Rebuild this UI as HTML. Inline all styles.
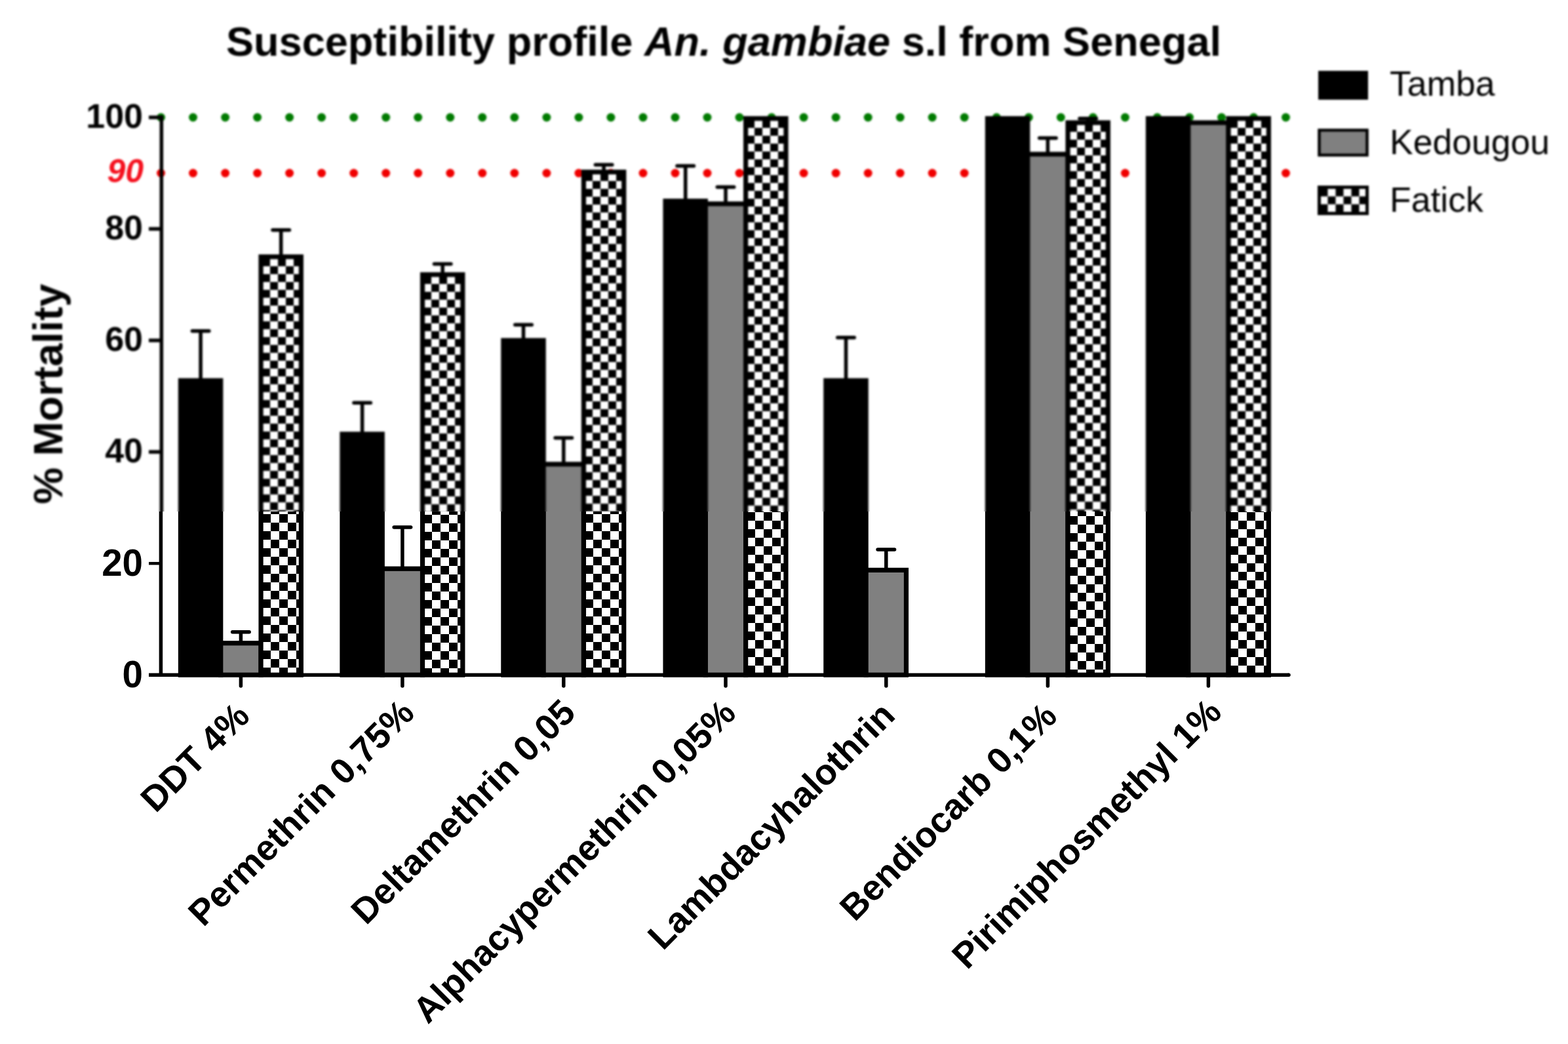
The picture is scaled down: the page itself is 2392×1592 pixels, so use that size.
<!DOCTYPE html><html><head><meta charset="utf-8"><title>Susceptibility profile An. gambiae s.l from Senegal</title>
<style>html,body{margin:0;padding:0;background:#fff;overflow:hidden;}svg{display:block;}text{font-family:"Liberation Sans",Arial,sans-serif;}</style></head><body>
<svg width="2392" height="1592" viewBox="0 0 2392 1592">
<defs><clipPath id="ctop"><rect x="0" y="0" width="2392" height="780"/></clipPath><clipPath id="cbot"><rect x="0" y="780" width="2392" height="812"/></clipPath><filter id="fb" x="-2%" y="-2%" width="104%" height="104%" color-interpolation-filters="sRGB"><feGaussianBlur stdDeviation="1.80"/></filter><filter id="fs" x="-2%" y="-2%" width="104%" height="104%" color-interpolation-filters="sRGB"><feGaussianBlur stdDeviation="0.60"/></filter><pattern id="pt0" patternUnits="userSpaceOnUse" x="400.00" y="394.00" width="24" height="24"><rect width="24" height="24" fill="#fff"/><rect width="12" height="12" fill="#000"/><rect x="12" y="12" width="12" height="12" fill="#000"/></pattern><pattern id="pb0" patternUnits="userSpaceOnUse" x="400.00" y="394.00" width="26" height="26"><rect width="26" height="26" fill="#fff"/><rect width="13" height="13" fill="#000"/><rect x="13" y="13" width="13" height="13" fill="#000"/></pattern><pattern id="pt1" patternUnits="userSpaceOnUse" x="646.00" y="421.00" width="24" height="24"><rect width="24" height="24" fill="#fff"/><rect width="12" height="12" fill="#000"/><rect x="12" y="12" width="12" height="12" fill="#000"/></pattern><pattern id="pb1" patternUnits="userSpaceOnUse" x="646.00" y="421.00" width="26" height="26"><rect width="26" height="26" fill="#fff"/><rect width="13" height="13" fill="#000"/><rect x="13" y="13" width="13" height="13" fill="#000"/></pattern><pattern id="pt2" patternUnits="userSpaceOnUse" x="892.00" y="264.00" width="24" height="24"><rect width="24" height="24" fill="#fff"/><rect width="12" height="12" fill="#000"/><rect x="12" y="12" width="12" height="12" fill="#000"/></pattern><pattern id="pb2" patternUnits="userSpaceOnUse" x="892.00" y="264.00" width="26" height="26"><rect width="26" height="26" fill="#fff"/><rect width="13" height="13" fill="#000"/><rect x="13" y="13" width="13" height="13" fill="#000"/></pattern><pattern id="pt3" patternUnits="userSpaceOnUse" x="1139.00" y="183.00" width="24" height="24"><rect width="24" height="24" fill="#fff"/><rect width="12" height="12" fill="#000"/><rect x="12" y="12" width="12" height="12" fill="#000"/></pattern><pattern id="pb3" patternUnits="userSpaceOnUse" x="1139.00" y="183.00" width="26" height="26"><rect width="26" height="26" fill="#fff"/><rect width="13" height="13" fill="#000"/><rect x="13" y="13" width="13" height="13" fill="#000"/></pattern><pattern id="pt5" patternUnits="userSpaceOnUse" x="1631.00" y="189.00" width="24" height="24"><rect width="24" height="24" fill="#fff"/><rect width="12" height="12" fill="#000"/><rect x="12" y="12" width="12" height="12" fill="#000"/></pattern><pattern id="pb5" patternUnits="userSpaceOnUse" x="1631.00" y="189.00" width="26" height="26"><rect width="26" height="26" fill="#fff"/><rect width="13" height="13" fill="#000"/><rect x="13" y="13" width="13" height="13" fill="#000"/></pattern><pattern id="pt6" patternUnits="userSpaceOnUse" x="1876.00" y="183.00" width="24" height="24"><rect width="24" height="24" fill="#fff"/><rect width="12" height="12" fill="#000"/><rect x="12" y="12" width="12" height="12" fill="#000"/></pattern><pattern id="pb6" patternUnits="userSpaceOnUse" x="1876.00" y="183.00" width="26" height="26"><rect width="26" height="26" fill="#fff"/><rect width="13" height="13" fill="#000"/><rect x="13" y="13" width="13" height="13" fill="#000"/></pattern><pattern id="pl" patternUnits="userSpaceOnUse" x="2013.50" y="287.50" width="24" height="24"><rect width="24" height="24" fill="#fff"/><rect width="12" height="12" fill="#000"/><rect x="12" y="12" width="12" height="12" fill="#000"/></pattern></defs>
<rect width="2392" height="1592" fill="#fff"/>
<g clip-path="url(#ctop)"><g filter="url(#fb)">
<g fill="#f00000"><circle cx="245.5" cy="264.0" r="6.5"/><circle cx="294.5" cy="264.0" r="6.5"/><circle cx="343.6" cy="264.0" r="6.5"/><circle cx="392.6" cy="264.0" r="6.5"/><circle cx="441.6" cy="264.0" r="6.5"/><circle cx="490.6" cy="264.0" r="6.5"/><circle cx="539.7" cy="264.0" r="6.5"/><circle cx="588.7" cy="264.0" r="6.5"/><circle cx="637.7" cy="264.0" r="6.5"/><circle cx="686.8" cy="264.0" r="6.5"/><circle cx="735.8" cy="264.0" r="6.5"/><circle cx="784.8" cy="264.0" r="6.5"/><circle cx="833.9" cy="264.0" r="6.5"/><circle cx="882.9" cy="264.0" r="6.5"/><circle cx="931.9" cy="264.0" r="6.5"/><circle cx="981.0" cy="264.0" r="6.5"/><circle cx="1030.0" cy="264.0" r="6.5"/><circle cx="1079.0" cy="264.0" r="6.5"/><circle cx="1128.0" cy="264.0" r="6.5"/><circle cx="1177.1" cy="264.0" r="6.5"/><circle cx="1226.1" cy="264.0" r="6.5"/><circle cx="1275.1" cy="264.0" r="6.5"/><circle cx="1324.2" cy="264.0" r="6.5"/><circle cx="1373.2" cy="264.0" r="6.5"/><circle cx="1422.2" cy="264.0" r="6.5"/><circle cx="1471.2" cy="264.0" r="6.5"/><circle cx="1520.3" cy="264.0" r="6.5"/><circle cx="1569.3" cy="264.0" r="6.5"/><circle cx="1618.3" cy="264.0" r="6.5"/><circle cx="1667.4" cy="264.0" r="6.5"/><circle cx="1716.4" cy="264.0" r="6.5"/><circle cx="1765.4" cy="264.0" r="6.5"/><circle cx="1814.5" cy="264.0" r="6.5"/><circle cx="1863.5" cy="264.0" r="6.5"/><circle cx="1912.5" cy="264.0" r="6.5"/><circle cx="1961.5" cy="264.0" r="6.5"/></g><g fill="#007a00"><circle cx="245.5" cy="179.0" r="6.5"/><circle cx="294.5" cy="179.0" r="6.5"/><circle cx="343.6" cy="179.0" r="6.5"/><circle cx="392.6" cy="179.0" r="6.5"/><circle cx="441.6" cy="179.0" r="6.5"/><circle cx="490.6" cy="179.0" r="6.5"/><circle cx="539.7" cy="179.0" r="6.5"/><circle cx="588.7" cy="179.0" r="6.5"/><circle cx="637.7" cy="179.0" r="6.5"/><circle cx="686.8" cy="179.0" r="6.5"/><circle cx="735.8" cy="179.0" r="6.5"/><circle cx="784.8" cy="179.0" r="6.5"/><circle cx="833.9" cy="179.0" r="6.5"/><circle cx="882.9" cy="179.0" r="6.5"/><circle cx="931.9" cy="179.0" r="6.5"/><circle cx="981.0" cy="179.0" r="6.5"/><circle cx="1030.0" cy="179.0" r="6.5"/><circle cx="1079.0" cy="179.0" r="6.5"/><circle cx="1128.0" cy="179.0" r="6.5"/><circle cx="1177.1" cy="179.0" r="6.5"/><circle cx="1226.1" cy="179.0" r="6.5"/><circle cx="1275.1" cy="179.0" r="6.5"/><circle cx="1324.2" cy="179.0" r="6.5"/><circle cx="1373.2" cy="179.0" r="6.5"/><circle cx="1422.2" cy="179.0" r="6.5"/><circle cx="1471.2" cy="179.0" r="6.5"/><circle cx="1520.3" cy="179.0" r="6.5"/><circle cx="1569.3" cy="179.0" r="6.5"/><circle cx="1618.3" cy="179.0" r="6.5"/><circle cx="1667.4" cy="179.0" r="6.5"/><circle cx="1716.4" cy="179.0" r="6.5"/><circle cx="1765.4" cy="179.0" r="6.5"/><circle cx="1814.5" cy="179.0" r="6.5"/><circle cx="1863.5" cy="179.0" r="6.5"/><circle cx="1912.5" cy="179.0" r="6.5"/><circle cx="1961.5" cy="179.0" r="6.5"/></g><rect x="275.45" y="580.29" width="61.30" height="448.91" fill="#000" stroke="#000" stroke-width="7.2"/><rect x="336.75" y="980.74" width="61.30" height="48.46" fill="#808080" stroke="#000" stroke-width="7.2"/><rect x="398.05" y="391.55" width="61.30" height="637.65" fill="url(#pt0)" stroke="#000" stroke-width="7.2"/><rect x="521.95" y="661.91" width="61.30" height="367.29" fill="#000" stroke="#000" stroke-width="7.2"/><rect x="583.25" y="867.24" width="61.30" height="161.96" fill="#808080" stroke="#000" stroke-width="7.2"/><rect x="644.55" y="418.76" width="61.30" height="610.44" fill="url(#pt1)" stroke="#000" stroke-width="7.2"/><rect x="767.85" y="519.08" width="61.30" height="510.12" fill="#000" stroke="#000" stroke-width="7.2"/><rect x="829.15" y="707.82" width="61.30" height="321.38" fill="#808080" stroke="#000" stroke-width="7.2"/><rect x="890.45" y="262.32" width="61.30" height="766.88" fill="url(#pt2)" stroke="#000" stroke-width="7.2"/><rect x="1015.05" y="306.53" width="61.30" height="722.67" fill="#000" stroke="#000" stroke-width="7.2"/><rect x="1076.35" y="310.78" width="61.30" height="718.42" fill="#808080" stroke="#000" stroke-width="7.2"/><rect x="1137.65" y="180.70" width="61.30" height="848.50" fill="url(#pt3)" stroke="#000" stroke-width="7.2"/><rect x="1259.85" y="580.29" width="61.30" height="448.91" fill="#000" stroke="#000" stroke-width="7.2"/><rect x="1321.15" y="869.36" width="61.30" height="159.84" fill="#808080" stroke="#000" stroke-width="7.2"/><rect x="1506.45" y="180.70" width="61.30" height="848.50" fill="#000" stroke="#000" stroke-width="7.2"/><rect x="1567.75" y="235.11" width="61.30" height="794.09" fill="#808080" stroke="#000" stroke-width="7.2"/><rect x="1629.05" y="187.08" width="61.30" height="842.12" fill="url(#pt5)" stroke="#000" stroke-width="7.2"/><rect x="1751.45" y="180.70" width="61.30" height="848.50" fill="#000" stroke="#000" stroke-width="7.2"/><rect x="1812.75" y="187.08" width="61.30" height="842.12" fill="#808080" stroke="#000" stroke-width="7.2"/><rect x="1874.05" y="180.70" width="61.30" height="848.50" fill="url(#pt6)" stroke="#000" stroke-width="7.2"/><path d="M306.10 580.29V504.63M293.35 504.63H318.85" stroke="#000" stroke-width="5.5" stroke-linecap="round" fill="none"/><path d="M367.40 980.74V963.73M354.65 963.73H380.15" stroke="#000" stroke-width="5.5" stroke-linecap="round" fill="none"/><path d="M428.70 391.55V350.74M415.95 350.74H441.45" stroke="#000" stroke-width="5.5" stroke-linecap="round" fill="none"/><path d="M552.60 661.91V614.30M539.85 614.30H565.35" stroke="#000" stroke-width="5.5" stroke-linecap="round" fill="none"/><path d="M613.90 867.24V803.90M601.15 803.90H626.65" stroke="#000" stroke-width="5.5" stroke-linecap="round" fill="none"/><path d="M675.20 418.76V402.60M662.45 402.60H687.95" stroke="#000" stroke-width="5.5" stroke-linecap="round" fill="none"/><path d="M798.50 519.08V495.27M785.75 495.27H811.25" stroke="#000" stroke-width="5.5" stroke-linecap="round" fill="none"/><path d="M859.80 707.82V667.87M847.05 667.87H872.55" stroke="#000" stroke-width="5.5" stroke-linecap="round" fill="none"/><path d="M921.10 262.32V251.27M908.35 251.27H933.85" stroke="#000" stroke-width="5.5" stroke-linecap="round" fill="none"/><path d="M1045.70 306.53V252.97M1032.95 252.97H1058.45" stroke="#000" stroke-width="5.5" stroke-linecap="round" fill="none"/><path d="M1107.00 310.78V285.27M1094.25 285.27H1119.75" stroke="#000" stroke-width="5.5" stroke-linecap="round" fill="none"/><path d="M1290.50 580.29V514.83M1277.75 514.83H1303.25" stroke="#000" stroke-width="5.5" stroke-linecap="round" fill="none"/><path d="M1351.80 869.36V837.90M1339.05 837.90H1364.55" stroke="#000" stroke-width="5.5" stroke-linecap="round" fill="none"/><path d="M1598.40 235.11V210.46M1585.65 210.46H1611.15" stroke="#000" stroke-width="5.5" stroke-linecap="round" fill="none"/><path d="M1659.70 187.08V180.70M1646.95 180.70H1672.45" stroke="#000" stroke-width="5.5" stroke-linecap="round" fill="none"/><path d="M246.3 176V1031.5" stroke="#000" stroke-width="5.5"/><path d="M227 1029.20H246.3" stroke="#000" stroke-width="4.5"/><path d="M227 859.16H246.3" stroke="#000" stroke-width="4.5"/><path d="M227 689.12H246.3" stroke="#000" stroke-width="5.5"/><path d="M227 519.08H246.3" stroke="#000" stroke-width="5.5"/><path d="M227 349.04H246.3" stroke="#000" stroke-width="5.5"/><path d="M227 179.00H246.3" stroke="#000" stroke-width="5.5"/>
<text x="218" y="705.1" font-size="52" font-weight="bold" text-anchor="end">40</text>
<text x="218" y="535.1" font-size="52" font-weight="bold" text-anchor="end">60</text>
<text x="218" y="365.0" font-size="52" font-weight="bold" text-anchor="end">80</text>
<text x="218" y="195.0" font-size="52" font-weight="bold" text-anchor="end">100</text>
<text x="219" y="278" font-size="50" font-weight="bold" font-style="italic" fill="#f5101e" text-anchor="end">90</text>
<text transform="translate(95,600.8) rotate(-90)" font-size="63" font-weight="bold" text-anchor="middle">% Mortality</text>
<text x="1104" y="84.5" font-size="63.1" font-weight="bold" text-anchor="middle">Susceptibility profile <tspan font-style="italic">An. gambiae</tspan> s.l from Senegal</text>
<rect x="2012.5" y="109.5" width="73" height="41" fill="#000" stroke="#000" stroke-width="3"/>
<rect x="2012.5" y="198.5" width="73" height="38" fill="#808080" stroke="#000" stroke-width="4.5"/>
<rect x="2012.5" y="285.5" width="73" height="40" fill="url(#pl)" stroke="#000" stroke-width="5"/>
<text x="2120" y="145.7" font-size="53.5">Tamba</text>
<text x="2120" y="234.8" font-size="53.5">Kedougou</text>
<text x="2120" y="322.6" font-size="53.5">Fatick</text>
</g></g>
<g clip-path="url(#cbot)"><g filter="url(#fs)">
<rect x="275.45" y="580.29" width="61.30" height="448.91" fill="#000" stroke="#000" stroke-width="7.2"/><rect x="336.75" y="980.74" width="61.30" height="48.46" fill="#808080" stroke="#000" stroke-width="7.2"/><rect x="398.05" y="391.55" width="61.30" height="637.65" fill="url(#pb0)" stroke="#000" stroke-width="7.2"/><rect x="521.95" y="661.91" width="61.30" height="367.29" fill="#000" stroke="#000" stroke-width="7.2"/><rect x="583.25" y="867.24" width="61.30" height="161.96" fill="#808080" stroke="#000" stroke-width="7.2"/><rect x="644.55" y="418.76" width="61.30" height="610.44" fill="url(#pb1)" stroke="#000" stroke-width="7.2"/><rect x="767.85" y="519.08" width="61.30" height="510.12" fill="#000" stroke="#000" stroke-width="7.2"/><rect x="829.15" y="707.82" width="61.30" height="321.38" fill="#808080" stroke="#000" stroke-width="7.2"/><rect x="890.45" y="262.32" width="61.30" height="766.88" fill="url(#pb2)" stroke="#000" stroke-width="7.2"/><rect x="1015.05" y="306.53" width="61.30" height="722.67" fill="#000" stroke="#000" stroke-width="7.2"/><rect x="1076.35" y="310.78" width="61.30" height="718.42" fill="#808080" stroke="#000" stroke-width="7.2"/><rect x="1137.65" y="180.70" width="61.30" height="848.50" fill="url(#pb3)" stroke="#000" stroke-width="7.2"/><rect x="1259.85" y="580.29" width="61.30" height="448.91" fill="#000" stroke="#000" stroke-width="7.2"/><rect x="1321.15" y="869.36" width="61.30" height="159.84" fill="#808080" stroke="#000" stroke-width="7.2"/><rect x="1506.45" y="180.70" width="61.30" height="848.50" fill="#000" stroke="#000" stroke-width="7.2"/><rect x="1567.75" y="235.11" width="61.30" height="794.09" fill="#808080" stroke="#000" stroke-width="7.2"/><rect x="1629.05" y="187.08" width="61.30" height="842.12" fill="url(#pb5)" stroke="#000" stroke-width="7.2"/><rect x="1751.45" y="180.70" width="61.30" height="848.50" fill="#000" stroke="#000" stroke-width="7.2"/><rect x="1812.75" y="187.08" width="61.30" height="842.12" fill="#808080" stroke="#000" stroke-width="7.2"/><rect x="1874.05" y="180.70" width="61.30" height="848.50" fill="url(#pb6)" stroke="#000" stroke-width="7.2"/><path d="M306.10 580.29V504.63M293.35 504.63H318.85" stroke="#000" stroke-width="5.5" stroke-linecap="round" fill="none"/><path d="M367.40 980.74V963.73M354.65 963.73H380.15" stroke="#000" stroke-width="5.5" stroke-linecap="round" fill="none"/><path d="M428.70 391.55V350.74M415.95 350.74H441.45" stroke="#000" stroke-width="5.5" stroke-linecap="round" fill="none"/><path d="M552.60 661.91V614.30M539.85 614.30H565.35" stroke="#000" stroke-width="5.5" stroke-linecap="round" fill="none"/><path d="M613.90 867.24V803.90M601.15 803.90H626.65" stroke="#000" stroke-width="5.5" stroke-linecap="round" fill="none"/><path d="M675.20 418.76V402.60M662.45 402.60H687.95" stroke="#000" stroke-width="5.5" stroke-linecap="round" fill="none"/><path d="M798.50 519.08V495.27M785.75 495.27H811.25" stroke="#000" stroke-width="5.5" stroke-linecap="round" fill="none"/><path d="M859.80 707.82V667.87M847.05 667.87H872.55" stroke="#000" stroke-width="5.5" stroke-linecap="round" fill="none"/><path d="M921.10 262.32V251.27M908.35 251.27H933.85" stroke="#000" stroke-width="5.5" stroke-linecap="round" fill="none"/><path d="M1045.70 306.53V252.97M1032.95 252.97H1058.45" stroke="#000" stroke-width="5.5" stroke-linecap="round" fill="none"/><path d="M1107.00 310.78V285.27M1094.25 285.27H1119.75" stroke="#000" stroke-width="5.5" stroke-linecap="round" fill="none"/><path d="M1290.50 580.29V514.83M1277.75 514.83H1303.25" stroke="#000" stroke-width="5.5" stroke-linecap="round" fill="none"/><path d="M1351.80 869.36V837.90M1339.05 837.90H1364.55" stroke="#000" stroke-width="5.5" stroke-linecap="round" fill="none"/><path d="M1598.40 235.11V210.46M1585.65 210.46H1611.15" stroke="#000" stroke-width="5.5" stroke-linecap="round" fill="none"/><path d="M1659.70 187.08V180.70M1646.95 180.70H1672.45" stroke="#000" stroke-width="5.5" stroke-linecap="round" fill="none"/><path d="M245.4 176V1031.5" stroke="#000" stroke-width="5.5"/><path d="M227 1029.20H245.4" stroke="#000" stroke-width="4.5"/><path d="M227 859.16H245.4" stroke="#000" stroke-width="4.5"/><path d="M227 689.12H245.4" stroke="#000" stroke-width="5.5"/><path d="M227 519.08H245.4" stroke="#000" stroke-width="5.5"/><path d="M227 349.04H245.4" stroke="#000" stroke-width="5.5"/><path d="M227 179.00H245.4" stroke="#000" stroke-width="5.5"/><path d="M227 1029.20H1966" stroke="#000" stroke-width="5.5"/><circle cx="1966" cy="1029.20" r="2.75"/><path d="M367.40 1029.20V1046" stroke="#000" stroke-width="5.5" stroke-linecap="round"/><path d="M613.90 1029.20V1046" stroke="#000" stroke-width="5.5" stroke-linecap="round"/><path d="M859.80 1029.20V1046" stroke="#000" stroke-width="5.5" stroke-linecap="round"/><path d="M1107.00 1029.20V1046" stroke="#000" stroke-width="5.5" stroke-linecap="round"/><path d="M1351.80 1029.20V1046" stroke="#000" stroke-width="5.5" stroke-linecap="round"/><path d="M1598.40 1029.20V1046" stroke="#000" stroke-width="5.5" stroke-linecap="round"/><path d="M1843.40 1029.20V1046" stroke="#000" stroke-width="5.5" stroke-linecap="round"/>
<text x="218" y="1048.2" font-size="56.5" font-weight="bold" text-anchor="end">0</text>
<text x="218" y="878.2" font-size="56.5" font-weight="bold" text-anchor="end">20</text>
<text transform="translate(383.6,1094.9) rotate(-45)" font-size="54.7" font-weight="bold" text-anchor="end">DDT 4%</text>
<text transform="translate(634.8,1090.1) rotate(-45)" font-size="54.7" font-weight="bold" text-anchor="end">Permethrin 0,75%</text>
<text transform="translate(880.8,1089.7) rotate(-45)" font-size="54.7" font-weight="bold" text-anchor="end">Deltamethrin 0,05</text>
<text transform="translate(1125.5,1090.3) rotate(-45)" font-size="54.7" font-weight="bold" text-anchor="end">Alphacypermethrin 0,05%</text>
<text transform="translate(1368.0,1094.0) rotate(-45)" font-size="54.7" font-weight="bold" text-anchor="end">Lambdacyhalothrin</text>
<text transform="translate(1615.5,1095.1) rotate(-45)" font-size="54.7" font-weight="bold" text-anchor="end">Bendiocarb 0,1%</text>
<text transform="translate(1866.4,1088.8) rotate(-45)" font-size="54.7" font-weight="bold" text-anchor="end">Pirimiphosmethyl 1%</text>
</g></g>
</svg></body></html>
